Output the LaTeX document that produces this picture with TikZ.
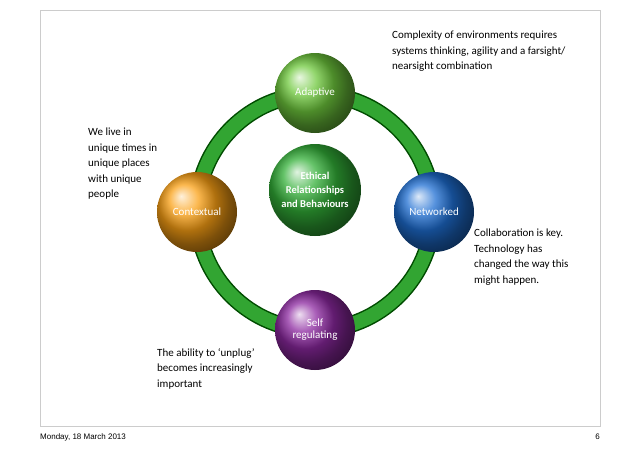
\documentclass[tikz,border=0pt]{standalone}
\usepackage{fontspec}
\setmainfont{Carlito}
\newfontfamily\footfont{Liberation Sans}
\definecolor{ringgreen}{RGB}{50,165,50}
\definecolor{adaptgreen}{RGB}{110,200,60}
\definecolor{ctxorange}{RGB}{250,160,20}
\definecolor{netblue}{RGB}{30,110,210}
\definecolor{selfpurple}{RGB}{140,40,160}
\definecolor{ethicgreen}{RGB}{50,175,55}
\tikzset{
  ball/.style={circle, minimum size=80pt, inner sep=0pt, text=white, font=\fontsize{11}{12}\selectfont, align=center},
  note/.style={anchor=north west, align=left, font=\fontsize{11}{15.5}\selectfont, inner sep=0pt}
}
\begin{document}
\begin{tikzpicture}[x=1pt,y=-1pt]
  \useasboundingbox (0,0) rectangle (638,451);
  % slide frame
  \draw[gray!40] (40,10) rectangle (600,426);
  % ring
  \draw[green!30!black, line width=17pt] (315,212) circle (118);
  \draw[ringgreen, line width=14pt] (315,212) circle (118);
  % circles
  \node[ball, ball color=adaptgreen] (adaptive) at (315,93) {Adaptive};
  \node[ball, ball color=ctxorange] (contextual) at (197,212) {Contextual};
  \node[ball, ball color=netblue] (networked) at (434,212) {Networked};
  \node[ball, ball color=selfpurple] (selfreg) at (315,330) {Self\\regulating};
  \node[ball, ball color=ethicgreen, minimum size=92pt, font=\bfseries\fontsize{10.5}{14}\selectfont] (ethical) at (315,190) {Ethical\\Relationships\\and Behaviours};
  % notes
  \node[note] (noteA) at (392,31) {Complexity of environments requires\\systems thinking, agility and a farsight/\\nearsight combination};
  \node[note] (noteC) at (88,128) {We live in\\unique times in\\unique places\\with unique\\people};
  \node[note] (noteN) at (474,229) {Collaboration is key.\\Technology has\\changed the way this\\might happen.};
  \node[note] (noteS) at (157,348) {The ability to ‘unplug’\\becomes increasingly\\important};
  % footer
  \node[anchor=west, font=\footfont\fontsize{8}{9}\selectfont, inner sep=0pt] (date) at (40,437) {Monday, 18 March 2013};
  \node[anchor=east, font=\footfont\fontsize{8}{9}\selectfont, inner sep=0pt] (page) at (600,437) {6};
\end{tikzpicture}
\end{document}
